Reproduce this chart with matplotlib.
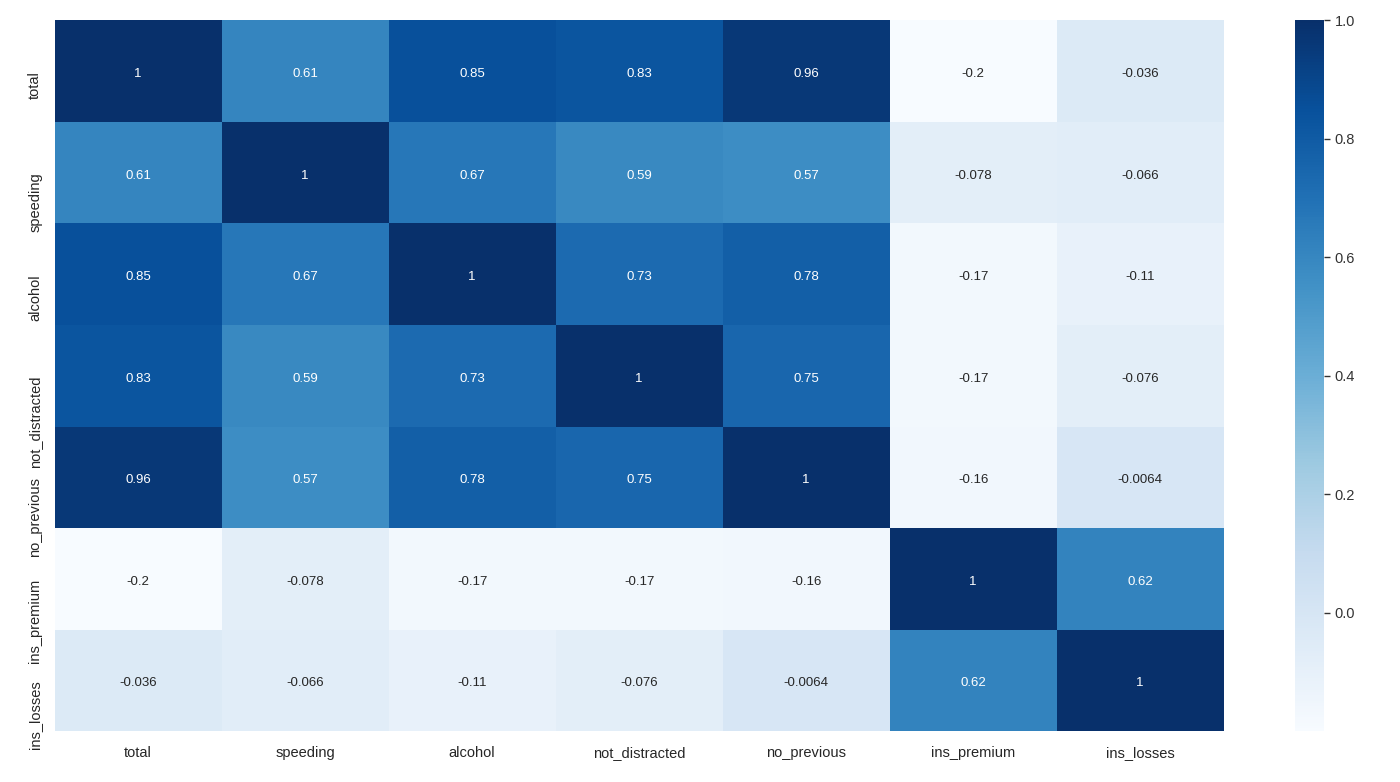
import numpy as np
import pandas as pd
import matplotlib
matplotlib.use("Agg")
import matplotlib.pyplot as plt
import matplotlib.transforms as mtransforms
import seaborn as sns

cols = ["total", "speeding", "alcohol", "not_distracted", "no_previous", "ins_premium", "ins_losses"]

row_total = [1, 0.61, 0.85, 0.83, 0.96, -0.2, -0.036]
row_speeding = [0.61, 1, 0.67, 0.59, 0.57, -0.078, -0.066]
row_alcohol = [0.85, 0.67, 1, 0.73, 0.78, -0.17, -0.11]
row_not_distracted = [0.83, 0.59, 0.73, 1, 0.75, -0.17, -0.076]
row_no_previous = [0.96, 0.57, 0.78, 0.75, 1, -0.16, -0.0064]
row_ins_premium = [-0.2, -0.078, -0.17, -0.17, -0.16, 1, 0.62]
row_ins_losses = [-0.036, -0.066, -0.11, -0.076, -0.0064, 0.62, 1]

corr = pd.DataFrame([row_total, row_speeding, row_alcohol, row_not_distracted,
                     row_no_previous, row_ins_premium, row_ins_losses],
                    index=cols, columns=cols)

sns.set_style("white")
plt.rcParams['font.family'] = ['Liberation Sans', 'DejaVu Sans']
plt.rcParams['text.color'] = '#262626'
plt.rcParams['xtick.color'] = '#262626'
plt.rcParams['ytick.color'] = '#262626'

fig = plt.figure(figsize=(14, 7.82), dpi=100)
ax = fig.add_axes([0.039, 0.065, 0.835, 0.909])
cax = fig.add_axes([0.925, 0.065, 0.021, 0.909])

sns.heatmap(corr, annot=True, cmap="Blues", ax=ax, cbar_ax=cax,
            annot_kws={"fontsize": 9.5})
ax.tick_params(axis='both', labelsize=10.5, length=0)
ax.tick_params(axis='x', pad=11)
ax.tick_params(axis='y', pad=9)
# old-style rotated y labels: top of the text sits at the row centre
for lab in ax.get_yticklabels():
    lab.set_va('top')
cax.tick_params(labelsize=10.5, length=4, width=1, colors='#333333')
cax.set_yticks([0.0, 0.2, 0.4, 0.6, 0.8, 1.0])

# nudge the cell labels down a little
shift = mtransforms.ScaledTranslation(0, -3 / 100, fig.dpi_scale_trans)
for t in ax.texts:
    t.set_transform(t.get_transform() + shift)

fig.savefig("out.png", dpi=100)
